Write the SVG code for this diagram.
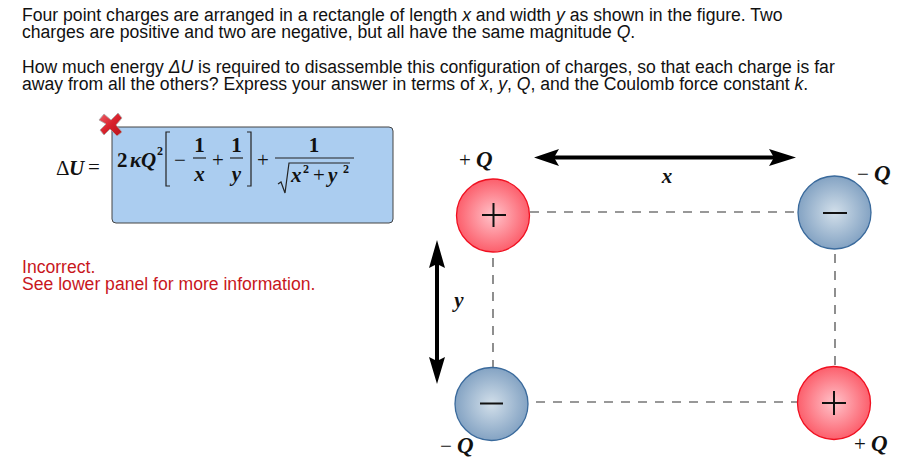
<svg xmlns="http://www.w3.org/2000/svg" width="900" height="476" viewBox="0 0 900 476">
<style>
.t{font:17.6px "Liberation Sans",Arial,sans-serif;fill:#111}
.i{font-style:italic}
.r{fill:#c8171d}
.m{font-family:"Liberation Serif","Times New Roman",serif;font-weight:bold;fill:#111;font-size:21px}
.mi{font-style:italic}
.s{font-size:12px}
.o{font-family:"Liberation Serif","Times New Roman",serif;fill:#111;font-size:21px}
.q{font-size:23px}
.d{stroke:#333;stroke-width:1.1;stroke-dasharray:9 8;fill:none}
.a{stroke:#000;stroke-width:4;fill:none}
.h{fill:#000}
.b{stroke:#222;stroke-width:1.2;fill:none}
.g{stroke:#111;stroke-width:2;fill:none}
.pos{fill:url(#pg);stroke:#f01020;stroke-width:1.3}
.neg{fill:url(#ng);stroke:#3a6a9c;stroke-width:1.3}
</style>
<defs>
<radialGradient id="pg"><stop offset="0" stop-color="#ffc3ca"/><stop offset="1" stop-color="#fc5f6c"/></radialGradient>
<radialGradient id="ng"><stop offset="0" stop-color="#d2dfea"/><stop offset="1" stop-color="#84a3c3"/></radialGradient>
<linearGradient id="xg" x1="0" y1="0" x2="1" y2="1"><stop offset="0" stop-color="#f0606a"/><stop offset="0.5" stop-color="#d8222c"/><stop offset="1" stop-color="#b8141c"/></linearGradient>
</defs>
<rect width="900" height="476" fill="#fff"/>
<g id="question">
<text class="t" x="22" y="21">Four point charges are arranged in a rectangle of length <tspan class="i">x</tspan> and width <tspan class="i">y</tspan> as shown in the figure. Two</text>
<text class="t" x="22" y="38">charges are positive and two are negative, but all have the same magnitude <tspan class="i">Q</tspan>.</text>
<text class="t" x="22" y="73">How much energy <tspan class="i">ΔU</tspan> is required to disassemble this configuration of charges, so that each charge is far</text>
<text class="t" x="22" y="90">away from all the others? Express your answer in terms of <tspan class="i">x</tspan>, <tspan class="i">y</tspan>, <tspan class="i">Q</tspan>, and the Coulomb force constant <tspan class="i">k</tspan>.</text>
</g>
<g id="answer">
<text class="o" x="56" y="175">Δ</text>
<text class="m mi" x="69" y="175">U</text>
<text class="o" x="88" y="174">=</text>
<rect x="112" y="127" width="281" height="96" rx="4" fill="#abcdf0" stroke="#444" stroke-width="1"/>
<text class="m" x="117" y="167">2</text>
<text class="o mi" x="130" y="167" font-weight="bold">κ</text>
<text class="m mi" x="141" y="167">Q</text>
<text class="m s" x="157" y="155">2</text>
<path class="b" d="M170 132H166V186H170M247 132H251V186H247"/>
<text class="o" x="174" y="167">−</text>
<text class="m" x="199.500" y="152" text-anchor="middle">1</text>
<path class="b" d="M193 158H206"/>
<text class="m mi" x="199.500" y="181" text-anchor="middle">x</text>
<text class="o" x="212" y="167">+</text>
<text class="m" x="236.500" y="152" text-anchor="middle">1</text>
<path class="b" d="M230 158H243"/>
<text class="m mi" x="236.500" y="181" text-anchor="middle">y</text>
<text class="o" x="257" y="167">+</text>
<text class="m" x="314" y="152" text-anchor="middle">1</text>
<path class="b" d="M275 158H354"/>
<path class="b" d="M278 184L281 182L285 193L289 163H350"/>
<text class="m mi" x="291" y="182">x</text>
<text class="m s" x="303" y="173">2</text>
<text class="o" x="313" y="182">+</text>
<text class="m mi" x="328" y="182">y</text>
<text class="m s" x="343" y="173">2</text>
</g>
<g id="wrong-mark">
<path d="M99 120L104 114L111 120L118 113L122 118L116 125L122 132L117 136L110 129L104 135L100 130L106 124Z" fill="url(#xg)" stroke="#aaa" stroke-width="0.8"/>
</g>
<g id="feedback">
<text class="t r" x="22" y="273">Incorrect.</text>
<text class="t r" x="22" y="290">See lower panel for more information.</text>
</g>
<g id="connectors">
<path class="d" d="M530 212H798"/>
<path class="d" d="M536 402H798"/>
<path class="d" d="M493 258V368"/>
<path class="d" d="M835 254V366"/>
<path class="a" d="M550 157.500H780"/>
<path class="h" d="M534 157.500L559 149L554 157.500L559 166Z"/>
<path class="h" d="M796 157.500L769 149L774 157.500L769 166Z"/>
<path class="a" d="M437 260V368"/>
<path class="h" d="M437 240L445 268L437 264L429 268Z"/>
<path class="h" d="M437 384L429 357L437 361L445 357Z"/>
<text class="m mi" x="667" y="183" text-anchor="middle">x</text>
<text class="m mi" x="459" y="307" text-anchor="middle">y</text>
</g>
<g id="charge-tl">
<circle class="pos" cx="493" cy="215.500" r="36.500"/>
<path class="g" d="M482 215H506M493.500 203V227"/>
<text class="o" x="459" y="167">+</text><text class="m mi q" x="476" y="167">Q</text>
</g>
<g id="charge-tr">
<circle class="neg" cx="834.500" cy="212.500" r="36.500"/>
<path class="g" d="M823 213H847"/>
<text class="o" x="857" y="181">−</text><text class="m mi q" x="874" y="181">Q</text>
</g>
<g id="charge-bl">
<circle class="neg" cx="491.500" cy="404" r="36.500"/>
<path class="g" d="M480 403.500H503"/>
<text class="o" x="440" y="453">−</text><text class="m mi q" x="457" y="453">Q</text>
</g>
<g id="charge-br">
<circle class="pos" cx="834" cy="403" r="36.500"/>
<path class="g" d="M822 403H846M834 391V415"/>
<text class="o" x="854" y="451">+</text><text class="m mi q" x="871" y="451">Q</text>
</g>
</svg>
